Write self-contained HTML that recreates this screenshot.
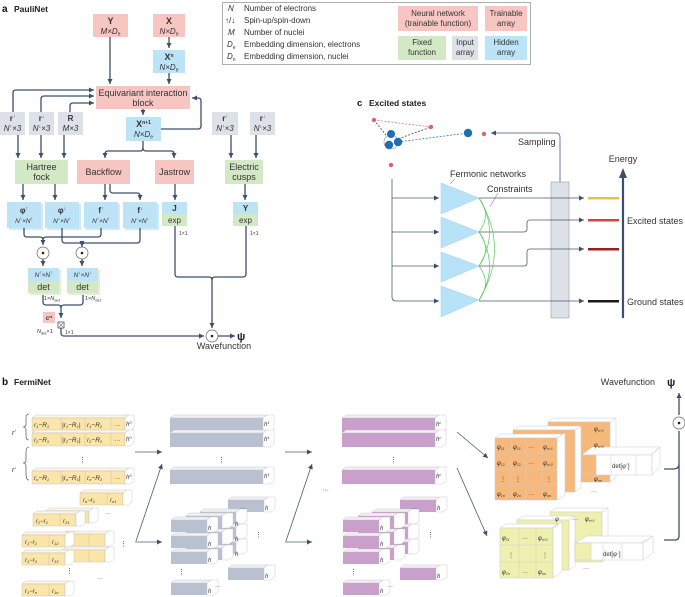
<!DOCTYPE html>
<html><head><meta charset="utf-8"><style>
html,body{margin:0;padding:0;background:#fff}
svg{display:block;font-family:"Liberation Sans",sans-serif}
.t{font-size:9px;fill:#333}
.s{font-size:8px;fill:#333}
.i{font-style:italic}
.b{font-weight:bold}
.ln{stroke:#3d4f6e;stroke-width:1.3;fill:none}
.tl{stroke:#4a5a78;stroke-width:0.8;fill:none}
</style></head><body>
<svg width="685" height="597" viewBox="0 0 685 597" xmlns="http://www.w3.org/2000/svg">
<defs>
<marker id="a" markerWidth="6" markerHeight="6" refX="5" refY="3" orient="auto" markerUnits="userSpaceOnUse"><path d="M0,0.5 L5,3 L0,5.5z" fill="#3d4f6e"/></marker>
<g id="yp">
<path d="M0,0 l4,-3 h43 l-4,3z" fill="#fbf6e6" stroke="#bbb" stroke-width="0.4"/>
<rect x="0" y="0" width="43" height="12" fill="#fbe5a8" stroke="#bbb" stroke-width="0.4"/>
<path d="M27,0 v12" stroke="#bbb" stroke-width="0.4"/>
<path d="M43,0 l4,-3 h5 v12 l-4,3 h-5z" fill="#fff" stroke="#bbb" stroke-width="0.4"/>
</g>
<g id="gb">
<path d="M0,0 l4,-3 h93 l-4,3z" fill="#eef0f4" stroke="#bbb" stroke-width="0.4"/>
<rect x="0" y="0" width="93" height="14" fill="#b9c1d1"/>
<path d="M93,0 l4,-3 h7 v14 l-4,3 h-7z" fill="#fff" stroke="#bbb" stroke-width="0.4"/>
</g>
<g id="gs">
<path d="M0,0 l4,-3 h36 l-4,3z" fill="#eef0f4" stroke="#bbb" stroke-width="0.4"/>
<rect x="0" y="0" width="36" height="12" fill="#b9c1d1"/>
<path d="M36,0 l4,-3 h7 v12 l-4,3 h-7z" fill="#fff" stroke="#bbb" stroke-width="0.4"/>
</g>
<g id="pb">
<path d="M0,0 l4,-3 h93 l-4,3z" fill="#f3eef4" stroke="#bbb" stroke-width="0.4"/>
<rect x="0" y="0" width="93" height="14" fill="#c9a0cc"/>
<path d="M93,0 l4,-3 h7 v14 l-4,3 h-7z" fill="#fff" stroke="#bbb" stroke-width="0.4"/>
</g>
<g id="ps">
<path d="M0,0 l4,-3 h36 l-4,3z" fill="#f3eef4" stroke="#bbb" stroke-width="0.4"/>
<rect x="0" y="0" width="36" height="12" fill="#c9a0cc"/>
<path d="M36,0 l4,-3 h7 v12 l-4,3 h-7z" fill="#fff" stroke="#bbb" stroke-width="0.4"/>
</g>
<g id="yr">
<path d="M0,0 l4,-3 h93 l-4,3z" fill="#fbf6e6" stroke="#bbb" stroke-width="0.4"/>
<rect x="0" y="0" width="93" height="13" fill="#fbe5a8" stroke="#bbb" stroke-width="0.4"/>
<path d="M93,0 l4,-3 h5 v13 l-4,3 h-5z" fill="#fff" stroke="#bbb" stroke-width="0.4"/>
<path d="M29,0 v13 M53,0 v13 M79,0 v13" stroke="#bbb" stroke-width="0.4"/>
</g>
</defs>

<!-- Panel a -->
<text x="2" y="12" font-size="10" class="b" fill="#111">a</text>
<text x="14" y="12" font-size="8.5" class="b" fill="#222">PauliNet</text>

<rect x="222.5" y="2.5" width="308" height="62" fill="#fff" stroke="#999" stroke-width="0.8"/>
<g class="s" font-size="7.8">
<text x="228" y="11" class="i">N</text><text x="244" y="11">Number of electrons</text>
<text x="225" y="23">↑/↓</text><text x="244" y="23">Spin-up/spin-down</text>
<text x="228" y="35" class="i">M</text><text x="244" y="35">Number of nuclei</text>
<text x="227" y="47" class="i">D<tspan font-size="5" dy="2" font-style="normal">e</tspan></text><text x="244" y="47">Embedding dimension, electrons</text>
<text x="227" y="59" class="i">D<tspan font-size="5" dy="2" font-style="normal">n</tspan></text><text x="244" y="59">Embedding dimension, nuclei</text>
</g>
<rect x="398" y="6" width="80" height="25" fill="#f7c6c2"/>
<text x="438" y="16" class="s" text-anchor="middle">Neural network</text>
<text x="438" y="26" class="s" text-anchor="middle">(trainable function)</text>
<rect x="485" y="6" width="42" height="25" fill="#f7c6c2"/>
<text x="506" y="16" class="s" text-anchor="middle">Trainable</text>
<text x="506" y="26" class="s" text-anchor="middle">array</text>
<rect x="398" y="36" width="48" height="24" fill="#d3e8c4"/>
<text x="422" y="45" class="s" text-anchor="middle">Fixed</text>
<text x="422" y="55" class="s" text-anchor="middle">function</text>
<rect x="452" y="36" width="26" height="24" fill="#dde1e8"/>
<text x="465" y="45" class="s" text-anchor="middle">Input</text>
<text x="465" y="55" class="s" text-anchor="middle">array</text>
<rect x="485" y="36" width="42" height="24" fill="#bde3f7"/>
<text x="506" y="45" class="s" text-anchor="middle">Hidden</text>
<text x="506" y="55" class="s" text-anchor="middle">array</text>

<rect x="93" y="14" width="35" height="23" fill="#f7c6c2"/>
<text x="110.5" y="24" class="t b" text-anchor="middle">Y</text>
<text x="110.5" y="34" class="s i" text-anchor="middle">M×D<tspan font-size="5" dy="1.5" font-style="normal">n</tspan></text>
<rect x="153" y="14" width="32" height="23" fill="#f7c6c2"/>
<text x="169" y="24" class="t b" text-anchor="middle">X</text>
<text x="169" y="34" class="s i" text-anchor="middle">N×D<tspan font-size="5" dy="1.5" font-style="normal">e</tspan></text>
<rect x="153" y="50" width="32" height="23" fill="#bde3f7"/>
<text x="169" y="60" class="t b" text-anchor="middle">X<tspan font-size="5" dy="-3">n</tspan></text>
<text x="169" y="70" class="s i" text-anchor="middle">N×D<tspan font-size="5" dy="1.5" font-style="normal">e</tspan></text>
<rect x="96" y="86" width="94" height="23" fill="#f7c6c2"/>
<text x="143" y="96" class="t" text-anchor="middle">Equivariant interaction</text>
<text x="143" y="106" class="t" text-anchor="middle">block</text>
<rect x="126" y="117" width="35" height="24" fill="#bde3f7"/>
<text x="143.5" y="127" class="t b" text-anchor="middle">X<tspan font-size="5" dy="-3">n+1</tspan></text>
<text x="143.5" y="137" class="s i" text-anchor="middle">N×D<tspan font-size="5" dy="1.5" font-style="normal">e</tspan></text>

<g class="s">
<rect x="0" y="112" width="25" height="23" fill="#dde1e8"/><text x="12.5" y="121" text-anchor="middle" class="b">r<tspan font-size="5" dy="-3">↑</tspan></text><text x="12.5" y="131" text-anchor="middle" class="i">N<tspan font-size="5" dy="-3">↑</tspan><tspan dy="3">×3</tspan></text>
<rect x="29" y="112" width="25" height="23" fill="#dde1e8"/><text x="41.5" y="121" text-anchor="middle" class="b">r<tspan font-size="5" dy="-3">↓</tspan></text><text x="41.5" y="131" text-anchor="middle" class="i">N<tspan font-size="5" dy="-3">↓</tspan><tspan dy="3">×3</tspan></text>
<rect x="58" y="112" width="25" height="23" fill="#dde1e8"/><text x="70.5" y="121" text-anchor="middle" class="b">R</text><text x="70.5" y="131" text-anchor="middle" class="i">M×3</text>
<rect x="212" y="112" width="26" height="23" fill="#dde1e8"/><text x="225" y="121" text-anchor="middle" class="b">r<tspan font-size="5" dy="-3">↑</tspan></text><text x="225" y="131" text-anchor="middle" class="i">N<tspan font-size="5" dy="-3">↑</tspan><tspan dy="3">×3</tspan></text>
<rect x="250" y="112" width="25" height="23" fill="#dde1e8"/><text x="262.5" y="121" text-anchor="middle" class="b">r<tspan font-size="5" dy="-3">↓</tspan></text><text x="262.5" y="131" text-anchor="middle" class="i">N<tspan font-size="5" dy="-3">↓</tspan><tspan dy="3">×3</tspan></text>
</g>

<rect x="15" y="160" width="53" height="24" fill="#d3e8c4"/>
<text x="41.5" y="170" class="t" text-anchor="middle">Hartree</text><text x="41.5" y="180" class="t" text-anchor="middle">fock</text>
<rect x="77" y="160" width="53" height="24" fill="#f7c6c2"/>
<text x="103.5" y="175" class="t" text-anchor="middle">Backflow</text>
<rect x="155" y="160" width="39" height="24" fill="#f7c6c2"/>
<text x="174.5" y="175" class="t" text-anchor="middle">Jastrow</text>
<rect x="225" y="160" width="38" height="24" fill="#d3e8c4"/>
<text x="244" y="170" class="t" text-anchor="middle">Electric</text><text x="244" y="180" class="t" text-anchor="middle">cusps</text>

<g class="ln">
<path d="M110,37 V84" marker-end="url(#a)"/>
<path d="M169,37 V48" marker-end="url(#a)"/>
<path d="M169,73 V84" marker-end="url(#a)"/>
<path d="M143,109 V115" marker-end="url(#a)"/>
<path d="M161,129 H198 Q201,129 201,126 V101 Q201,98 198,98 H192" marker-end="url(#a)"/>
<path d="M13,112 V93 Q13,90 16,90 H94" marker-end="url(#a)"/>
<path d="M41,112 V99 Q41,96 44,96 H94" marker-end="url(#a)"/>
<path d="M70,112 V106 Q70,103 73,103 H94" marker-end="url(#a)"/>
<path d="M18,135 V158" marker-end="url(#a)"/>
<path d="M41,135 V158" marker-end="url(#a)"/>
<path d="M64,135 V158" marker-end="url(#a)"/>
<path d="M231,135 V158" marker-end="url(#a)"/>
<path d="M256,135 V158" marker-end="url(#a)"/>
<path d="M143,141 V148 M143,148 Q143,151 140,151 H108 Q105,151 105,154 V158" marker-end="url(#a)"/>
<path d="M143,148 Q143,151 146,151 H171 Q174,151 174,154 V158" marker-end="url(#a)"/>
<path d="M23,184 V200" marker-end="url(#a)"/>
<path d="M55,184 V200" marker-end="url(#a)"/>
<path d="M105,184 V200" marker-end="url(#a)"/>
<path d="M110,184 V190 Q110,193 113,193 H137 Q140,193 140,196 V200" marker-end="url(#a)"/>
<path d="M175,184 V200" marker-end="url(#a)"/>
<path d="M245,184 V200" marker-end="url(#a)"/>
</g>

<g>
<rect x="9" y="204" width="34" height="26" fill="#cfe9f8"/><rect x="7" y="202" width="34" height="26" fill="#bde3f7"/>
<rect x="47" y="204" width="34" height="26" fill="#cfe9f8"/><rect x="45" y="202" width="34" height="26" fill="#bde3f7"/>
<rect x="86" y="204" width="34" height="26" fill="#cfe9f8"/><rect x="84" y="202" width="34" height="26" fill="#bde3f7"/>
<rect x="125" y="204" width="34" height="26" fill="#cfe9f8"/><rect x="123" y="202" width="34" height="26" fill="#bde3f7"/>
</g>
<g class="s" text-anchor="middle">
<text x="24" y="213" class="b">φ<tspan font-size="5" dy="-3">↑</tspan></text><text x="24" y="223" class="i" font-size="6.5">N<tspan font-size="4.5" dy="-3">↑</tspan><tspan dy="3">×N</tspan><tspan font-size="4.5" dy="-3">↑</tspan></text>
<text x="62" y="213" class="b">φ<tspan font-size="5" dy="-3">↓</tspan></text><text x="62" y="223" class="i" font-size="6.5">N<tspan font-size="4.5" dy="-3">↓</tspan><tspan dy="3">×N</tspan><tspan font-size="4.5" dy="-3">↓</tspan></text>
<text x="101" y="213" class="b">f<tspan font-size="5" dy="-3">↑</tspan></text><text x="101" y="223" class="i" font-size="6.5">N<tspan font-size="4.5" dy="-3">↑</tspan><tspan dy="3">×N</tspan><tspan font-size="4.5" dy="-3">↑</tspan></text>
<text x="140" y="213" class="b">f<tspan font-size="5" dy="-3">↓</tspan></text><text x="140" y="223" class="i" font-size="6.5">N<tspan font-size="4.5" dy="-3">↓</tspan><tspan dy="3">×N</tspan><tspan font-size="4.5" dy="-3">↓</tspan></text>
</g>
<rect x="162" y="202" width="25" height="12" fill="#bde3f7"/><rect x="162" y="214" width="25" height="12" fill="#d3e8c4"/>
<text x="174.5" y="211" class="s b" text-anchor="middle">J</text><text x="174.5" y="223" class="s" text-anchor="middle">exp</text>
<rect x="233" y="202" width="25" height="12" fill="#bde3f7"/><rect x="233" y="214" width="25" height="12" fill="#d3e8c4"/>
<text x="245.5" y="211" class="s b" text-anchor="middle">Y</text><text x="245.5" y="223" class="s" text-anchor="middle">exp</text>
<text x="179" y="235" font-size="5" fill="#333">1×1</text>
<text x="250" y="235" font-size="5" fill="#333">1×1</text>

<g class="ln">
<path d="M24,228 V234 Q24,237 27,237 H40 Q43,237 43,240 V245" marker-end="url(#a)"/>
<path d="M101,228 V234 Q101,237 98,237 H46 Q43,237 43,240"/>
<path d="M62,228 V240 Q62,243 65,243 H79 Q82,243 82,246" marker-end="url(#a)"/>
<path d="M140,228 V240 Q140,243 137,243 H85 Q82,243 82,246 V245" marker-end="url(#a)"/>
<path d="M43,259 V266" marker-end="url(#a)"/>
<path d="M82,259 V266" marker-end="url(#a)"/>
<path d="M175,226 V274 Q175,277 178,277 H209 Q212,277 212,280 V328" marker-end="url(#a)"/>
<path d="M246,226 V274 Q246,277 243,277 H215 Q212,277 212,280"/>
<path d="M43,293 V302 Q43,305 46,305 H58 Q61,305 61,308 V318" marker-end="url(#a)"/>
<path d="M83,293 V302 Q83,305 80,305 H64 Q61,305 61,308"/>
<path d="M61,328 V333 Q61,336 64,336 H204" marker-end="url(#a)"/>
<path d="M218,336 H235" marker-end="url(#a)"/>
</g>
<g fill="#fff" stroke="#666" stroke-width="0.7">
<circle cx="43" cy="253" r="6"/><circle cx="82" cy="253" r="6"/><circle cx="212" cy="336" r="6"/>
</g>
<circle cx="43" cy="253" r="1.3" fill="#222"/><circle cx="82" cy="253" r="1.3" fill="#222"/><circle cx="212" cy="336" r="1.3" fill="#222"/>
<text x="237" y="340" font-size="11" class="b" fill="#222">ψ</text>
<text x="224" y="349" class="t" text-anchor="middle">Wavefunction</text>

<rect x="30" y="270" width="31" height="25" fill="#e2eed8"/>
<rect x="28" y="268" width="31" height="13" fill="#bde3f7"/><rect x="28" y="281" width="31" height="12" fill="#d3e8c4"/>
<rect x="69" y="270" width="31" height="25" fill="#e2eed8"/>
<rect x="67" y="268" width="31" height="13" fill="#bde3f7"/><rect x="67" y="281" width="31" height="12" fill="#d3e8c4"/>
<text x="43.5" y="277" font-size="6.5" class="i" fill="#333" text-anchor="middle">N<tspan font-size="4.5" dy="-3">↑</tspan><tspan dy="3">×N</tspan><tspan font-size="4.5" dy="-3">↑</tspan></text>
<text x="82.5" y="277" font-size="6.5" class="i" fill="#333" text-anchor="middle">N<tspan font-size="4.5" dy="-3">↓</tspan><tspan dy="3">×N</tspan><tspan font-size="4.5" dy="-3">↓</tspan></text>
<text x="43.5" y="290" class="t" text-anchor="middle">det</text>
<text x="82.5" y="290" class="t" text-anchor="middle">det</text>
<text x="44" y="300" font-size="5.5" fill="#333">1×<tspan class="i">N</tspan><tspan font-size="4" dy="1.5">det</tspan></text>
<text x="85" y="300" font-size="5.5" fill="#333">1×<tspan class="i">N</tspan><tspan font-size="4" dy="1.5">det</tspan></text>
<rect x="43" y="312" width="12" height="11" fill="#f7c6c2"/>
<text x="49" y="320" font-size="6" class="b" fill="#333" text-anchor="middle">c<tspan font-size="4" dy="-2">π</tspan></text>
<rect x="58" y="322" width="6" height="6" fill="#fff" stroke="#333" stroke-width="0.7"/>
<path d="M59,323 L63,327 M63,323 L59,327" stroke="#333" stroke-width="0.5"/>
<text x="37" y="333" font-size="5.5" fill="#333" class="i">N<tspan font-size="4" dy="1.5" font-style="normal">det</tspan><tspan dy="-1.5" font-style="normal">×1</tspan></text>
<text x="65" y="334" font-size="5" fill="#333">1×1</text>

<!-- Panel c -->
<text x="357" y="106" font-size="9.5" class="b" fill="#111">c</text>
<text x="369" y="106" font-size="8.5" class="b" fill="#222">Excited states</text>
<path d="M374,120 L431,127" stroke="#e07a7a" stroke-width="0.8" stroke-dasharray="2,1.5"/>
<path d="M374,120 L390,140 M395,140 L431,127" stroke="#444" stroke-width="0.8" stroke-dasharray="2,1.5"/>
<path d="M398,142 L468,133" stroke="#3d8bd0" stroke-width="0.9" stroke-dasharray="2,1.5"/>
<circle cx="391" cy="142" r="7" fill="#fff" stroke="#888" stroke-width="0.6"/>
<circle cx="391" cy="134" r="4" fill="#1d6fb0"/>
<circle cx="389" cy="145" r="4.2" fill="#1d6fb0"/>
<circle cx="398" cy="142" r="4.2" fill="#1d6fb0"/>
<circle cx="468" cy="133" r="4.2" fill="#1d6fb0"/>
<g fill="#d9646a"><circle cx="374" cy="120" r="2.2"/><circle cx="431" cy="127" r="2.2"/><circle cx="484" cy="134" r="2.2"/><circle cx="391" cy="165" r="2.2"/></g>
<text x="518" y="145" class="t" font-size="8">Sampling</text>
<path d="M560,182 V137 Q560,133 556,133 H491" class="tl" marker-end="url(#a)"/>
<rect x="551" y="182" width="18" height="136" fill="#dde1e8" stroke="#99a" stroke-width="0.6"/>
<text x="450" y="177" class="t" font-size="8">Fermonic networks</text>
<path d="M455,179 L450,184" stroke="#666" stroke-width="0.5"/>
<text x="487" y="192" class="t" font-size="8">Constraints</text>
<path d="M498,193 L490,207" stroke="#666" stroke-width="0.5"/>
<g fill="#b8e2f7" stroke="#9cd0ee" stroke-width="0.5">
<path d="M441,183 L479,198 L441,214z"/><path d="M441,217 L479,232 L441,248z"/>
<path d="M441,252 L479,266 L441,282z"/><path d="M441,286 L479,300 L441,317z"/>
</g>
<g class="tl">
<path d="M392,179 V297 Q392,301 396,301 H439" marker-end="url(#a)"/>
<path d="M392,198 H439" marker-end="url(#a)"/>
<path d="M392,232 H439" marker-end="url(#a)"/>
<path d="M392,266 H439" marker-end="url(#a)"/>
<path d="M479,198 H584" marker-end="url(#a)"/>
<path d="M479,232 H524 Q527,232 527,229 V223 Q527,220 530,220 H584" marker-end="url(#a)"/>
<path d="M479,266 H524 Q527,266 527,263 V252 Q527,249 530,249 H584" marker-end="url(#a)"/>
<path d="M479,301 H584" marker-end="url(#a)"/>
</g>
<g stroke="#5cc85c" stroke-width="0.7" fill="none">
<path d="M479,198 Q492,215 479,232"/><path d="M479,232 Q492,249 479,266"/><path d="M479,266 Q492,283 479,300"/>
<path d="M479,198 Q500,232 479,266"/><path d="M479,232 Q500,266 479,300"/>
<path d="M479,198 Q510,249 479,300"/>
</g>
<rect x="588" y="197" width="31" height="2.5" fill="#e8c050"/>
<rect x="588" y="219" width="31" height="2.5" fill="#d04545"/>
<rect x="588" y="248" width="31" height="2.5" fill="#9a2020"/>
<rect x="588" y="300" width="31" height="2.5" fill="#1a1a1a"/>
<path d="M623,318 V176" stroke="#3d4f6e" stroke-width="2.2"/>
<path d="M619,178 L623,168 L627,178z" fill="#3d4f6e"/>
<text x="623" y="162" class="t" font-size="8" text-anchor="middle">Energy</text>
<text x="627" y="224" class="t" font-size="8">Excited states</text>
<text x="627" y="305" class="t" font-size="8">Ground states</text>

<!-- Panel b -->
<text x="2" y="385" font-size="10" class="b" fill="#111">b</text>
<text x="14" y="385" font-size="8.5" class="b" fill="#222">FermiNet</text>

<text x="655" y="385" class="t" font-size="8" text-anchor="end">Wavefunction</text>
<text x="667" y="386" font-size="11" class="b" fill="#222">ψ</text>
<path d="M679,536 Q679,540 675,540 H664 M679,437 V536 M679,464 Q679,469 673,469 H664" class="ln"/>
<path d="M679,437 V431" class="ln"/>
<path d="M679,415 V393" class="ln" marker-end="url(#a)"/>
<circle cx="679" cy="423" r="6" fill="#fff" stroke="#666" stroke-width="0.7"/><circle cx="679" cy="423" r="1.3" fill="#222"/>

<g font-size="6.5" class="i" fill="#333">
<use href="#yr" x="32" y="418"/><use href="#yr" x="32" y="433"/><use href="#yr" x="32" y="471"/>
<text x="34" y="427">r<tspan font-size="4" dy="1">1</tspan><tspan dy="-1">−R</tspan><tspan font-size="4" dy="1">1</tspan></text>
<text x="62" y="427">|r<tspan font-size="4" dy="1">1</tspan><tspan dy="-1">−R</tspan><tspan font-size="4" dy="1">1</tspan><tspan dy="-1">|</tspan></text>
<text x="87" y="427">r<tspan font-size="4" dy="1">1</tspan><tspan dy="-1">−R</tspan><tspan font-size="4" dy="1">2</tspan></text>
<text x="34" y="442">r<tspan font-size="4" dy="1">2</tspan><tspan dy="-1">−R</tspan><tspan font-size="4" dy="1">1</tspan></text>
<text x="62" y="442">|r<tspan font-size="4" dy="1">2</tspan><tspan dy="-1">−R</tspan><tspan font-size="4" dy="1">1</tspan><tspan dy="-1">|</tspan></text>
<text x="87" y="442">r<tspan font-size="4" dy="1">2</tspan><tspan dy="-1">−R</tspan><tspan font-size="4" dy="1">2</tspan></text>
<text x="34" y="480">r<tspan font-size="4" dy="1">n</tspan><tspan dy="-1">−R</tspan><tspan font-size="4" dy="1">1</tspan></text>
<text x="62" y="480">|r<tspan font-size="4" dy="1">n</tspan><tspan dy="-1">−R</tspan><tspan font-size="4" dy="1">1</tspan><tspan dy="-1">|</tspan></text>
<text x="87" y="480">r<tspan font-size="4" dy="1">n</tspan><tspan dy="-1">−R</tspan><tspan font-size="4" dy="1">2</tspan></text>
<text x="114" y="427" font-style="normal">···</text><text x="114" y="442" font-style="normal">···</text><text x="114" y="480" font-style="normal">···</text>
<text x="126" y="426" font-size="6">h<tspan font-size="4" dy="-2">0</tspan></text>
<text x="126" y="441" font-size="6">h<tspan font-size="4" dy="-2">0</tspan></text>
<text x="126" y="479" font-size="6">h<tspan font-size="4" dy="-2">0</tspan></text>
</g>
<text x="79" y="462" font-size="7" fill="#333">⋮</text>
<text x="12" y="435" font-size="7" class="i" fill="#333">r<tspan font-size="4.5" dy="-3">↑</tspan></text>
<text x="12" y="472" font-size="7" class="i" fill="#333">r<tspan font-size="4.5" dy="-3">↓</tspan></text>
<path d="M29,414 q-3,0 -3,4 v6 q0,3 -3,3 q3,0 3,3 v6 q0,4 3,4" stroke="#333" stroke-width="0.6" fill="none"/>
<path d="M29,447 q-3,0 -3,5 v8 q0,3 -3,3 q3,0 3,3 v8 q0,6 3,6" stroke="#333" stroke-width="0.6" fill="none"/>

<use href="#yp" x="80" y="493"/>
<use href="#yp" x="46" y="511"/>
<use href="#yp" x="62" y="534"/>
<use href="#yp" x="62" y="550"/>
<use href="#yp" x="33" y="514"/>
<use href="#yp" x="22" y="535"/>
<use href="#yp" x="22" y="553"/>
<use href="#yp" x="22" y="584"/>
<g font-size="6" class="i" fill="#333">
<text x="83" y="502">r<tspan font-size="4" dy="1">n</tspan><tspan dy="-1">−r</tspan><tspan font-size="4" dy="1">1</tspan></text><text x="110" y="502">r<tspan font-size="4" dy="1">n1</tspan></text>
<text x="36" y="523">r<tspan font-size="4" dy="1">2</tspan><tspan dy="-1">−r</tspan><tspan font-size="4" dy="1">1</tspan></text><text x="63" y="523">r<tspan font-size="4" dy="1">21</tspan></text>
<text x="25" y="544">r<tspan font-size="4" dy="1">1</tspan><tspan dy="-1">−r</tspan><tspan font-size="4" dy="1">2</tspan></text><text x="52" y="544">r<tspan font-size="4" dy="1">12</tspan></text>
<text x="25" y="562">r<tspan font-size="4" dy="1">1</tspan><tspan dy="-1">−r</tspan><tspan font-size="4" dy="1">3</tspan></text><text x="52" y="562">r<tspan font-size="4" dy="1">13</tspan></text>
<text x="25" y="593">r<tspan font-size="4" dy="1">1</tspan><tspan dy="-1">−r</tspan><tspan font-size="4" dy="1">n</tspan></text><text x="52" y="593">r<tspan font-size="4" dy="1">1n</tspan></text>
<text x="66" y="573" font-style="normal" font-size="7">⋮</text>
<text x="97" y="580" font-style="normal">···</text>
<text x="105" y="515" font-style="normal">···</text>
<text x="120" y="546" font-style="normal" font-size="7">⋮</text>
</g>

<g class="tl">
<path d="M135,452 H162" marker-end="url(#a)"/>
<path d="M135,542 H162" marker-end="url(#a)"/>
<path d="M136,541 L162,464" marker-end="url(#a)"/>
<path d="M285,452 H312" marker-end="url(#a)"/>
<path d="M285,542 H312" marker-end="url(#a)"/>
<path d="M286,541 L312,464" marker-end="url(#a)"/>
<path d="M457,432 L488,458" marker-end="url(#a)"/>
<path d="M457,468 L487,536" marker-end="url(#a)"/>
</g>

<use href="#gb" x="170" y="418"/><use href="#gb" x="170" y="433"/><use href="#gb" x="170" y="470"/>
<text x="218" y="462" font-size="7" fill="#333">⋮</text>
<use href="#gs" x="228" y="500"/>
<use href="#gs" x="200" y="512"/><use href="#gs" x="200" y="527"/><use href="#gs" x="200" y="542"/>
<use href="#gs" x="186" y="516"/><use href="#gs" x="186" y="532"/><use href="#gs" x="186" y="548"/>
<use href="#gs" x="171" y="520"/><use href="#gs" x="171" y="536"/><use href="#gs" x="171" y="552"/>
<use href="#gs" x="228" y="568"/><use href="#gs" x="171" y="583"/>
<g font-size="6" class="i" fill="#333">
<text x="264" y="426">h<tspan font-size="4" dy="-2">1</tspan></text><text x="264" y="441">h<tspan font-size="4" dy="-2">1</tspan></text><text x="264" y="478">h<tspan font-size="4" dy="-2">1</tspan></text>
<text x="208" y="530">h</text><text x="208" y="546">h</text><text x="208" y="562">h</text><text x="208" y="593">h</text>
<text x="265" y="510">h</text><text x="265" y="578">h</text>
<text x="235" y="526">h</text><text x="235" y="541">h</text><text x="235" y="556">h</text>
<text x="240" y="510" font-style="normal">···</text><text x="215" y="588" font-style="normal">···</text>
<text x="255" y="537" font-style="normal" font-size="7">⋮</text><text x="178" y="574" font-style="normal" font-size="7">⋮</text>
</g>
<text x="322" y="492" font-size="7" fill="#333">···</text>

<use href="#pb" x="342" y="418"/><use href="#pb" x="342" y="433"/><use href="#pb" x="342" y="470"/>
<text x="390" y="462" font-size="7" fill="#333">⋮</text>
<use href="#ps" x="400" y="500"/>
<use href="#ps" x="372" y="512"/><use href="#ps" x="372" y="527"/><use href="#ps" x="372" y="542"/>
<use href="#ps" x="358" y="516"/><use href="#ps" x="358" y="532"/><use href="#ps" x="358" y="548"/>
<use href="#ps" x="343" y="520"/><use href="#ps" x="343" y="536"/><use href="#ps" x="343" y="552"/>
<use href="#ps" x="400" y="568"/><use href="#ps" x="343" y="583"/>
<g font-size="6" class="i" fill="#333">
<text x="436" y="426">h<tspan font-size="4" dy="-2">L</tspan></text><text x="436" y="441">h<tspan font-size="4" dy="-2">L</tspan></text><text x="436" y="478">h<tspan font-size="4" dy="-2">L</tspan></text>
<text x="380" y="530">h</text><text x="380" y="546">h</text><text x="380" y="562">h</text><text x="380" y="593">h</text>
<text x="437" y="510">h</text><text x="437" y="578">h</text>
<text x="412" y="510" font-style="normal">···</text><text x="387" y="588" font-style="normal">···</text>
<text x="427" y="537" font-style="normal" font-size="7">⋮</text><text x="350" y="574" font-style="normal" font-size="7">⋮</text>
</g>

<g stroke="#ccc" stroke-width="0.5">
<path d="M548,422 l6,-4 h62 l-6,4z" fill="#fff"/><rect x="548" y="422" width="62" height="60" fill="#f7b97b"/><path d="M610,422 l6,-4 v60 l-6,4z" fill="#fff"/>
<path d="M513,430 l6,-4 h62 l-6,4z" fill="#fff"/><rect x="513" y="430" width="62" height="62" fill="#f7b97b"/><path d="M575,430 l6,-4 v62 l-6,4z" fill="#fff"/>
<path d="M495,438 l6,-4 h62 l-6,4z" fill="#fff"/><rect x="495" y="438" width="62" height="62" fill="#f7b97b"/><path d="M557,438 l8,-5 v62 l-8,5z" fill="#fff"/>
<path d="M511,438 v62 M526,438 v62 M542,438 v62 M495,453 h62 M495,469 h62 M495,485 h62" fill="none"/>
<path d="M582,455 l10,-8 h68 l-10,8z" fill="#fff"/><rect x="582" y="455" width="70" height="20" fill="#fff"/><rect x="582" y="455" width="14" height="20" fill="#f7b97b"/>
<path d="M652,455 l8,-8 v20 l-8,8z" fill="#fff"/><path d="M611,455 v20 M636,455 v20" fill="none"/>
</g>
<g font-size="6" class="i" fill="#333">
<text x="497" y="449">φ<tspan font-size="3.5" dy="1">11</tspan></text><text x="513" y="449">φ<tspan font-size="3.5" dy="1">21</tspan></text><text x="528" y="449" font-style="normal">···</text><text x="543" y="449">φ<tspan font-size="3.5" dy="1">n+1</tspan></text>
<text x="497" y="465">φ<tspan font-size="3.5" dy="1">12</tspan></text><text x="513" y="465">φ<tspan font-size="3.5" dy="1">22</tspan></text><text x="528" y="465" font-style="normal">···</text><text x="543" y="465">φ<tspan font-size="3.5" dy="1">n+2</tspan></text>
<text x="500" y="481" font-style="normal">⋮</text><text x="515" y="481" font-style="normal">⋮</text><text x="546" y="481" font-style="normal">⋮</text>
<text x="497" y="496">φ<tspan font-size="3.5" dy="1">1n</tspan></text><text x="513" y="496">φ<tspan font-size="3.5" dy="1">2n</tspan></text><text x="528" y="496" font-style="normal">···</text><text x="543" y="496">φ<tspan font-size="3.5" dy="1">nn</tspan></text>
<text x="594" y="431">φ<tspan font-size="3.5" dy="1">n+1</tspan></text><text x="594" y="447">φ<tspan font-size="3.5" dy="1">n+2</tspan></text>
<text x="594" y="481">φ<tspan font-size="3.5" dy="1">nn</tspan></text>
<text x="612" y="468" font-style="normal">det[φ<tspan font-size="4" dy="-2">↑</tspan><tspan dy="2">]</tspan></text>
<text x="591" y="493" font-style="normal">···</text>
</g>

<g stroke="#ccc" stroke-width="0.5">
<path d="M550,512 l6,-4 h52 l-6,4z" fill="#fff"/><rect x="550" y="512" width="52" height="50" fill="#eef0b0"/><path d="M602,512 l6,-4 v50 l-6,4z" fill="#fff"/>
<path d="M517,520 l6,-4 h52 l-6,4z" fill="#fff"/><rect x="517" y="520" width="52" height="50" fill="#eef0b0"/><path d="M569,520 l6,-4 v50 l-6,4z" fill="#fff"/>
<path d="M500,528 l6,-4 h52 l-6,4z" fill="#fff"/><rect x="500" y="528" width="53" height="50" fill="#eef0b0"/><path d="M553,528 l9,-6 v50 l-9,6z" fill="#fff"/>
<path d="M519,528 v50 M536,528 v50 M500,545 h53 M500,562 h53" fill="none"/>
<path d="M575,543 l12,-7 h66 l-12,7z" fill="#fff"/><rect x="575" y="543" width="68" height="17" fill="#fff"/><rect x="575" y="543" width="16" height="17" fill="#eef0b0"/>
<path d="M643,543 l10,-7 v17 l-10,7z" fill="#fff"/><path d="M603,543 v17 M622,543 v17" fill="none"/>
</g>
<g font-size="6" class="i" fill="#333">
<text x="502" y="540">φ<tspan font-size="3.5" dy="1">11</tspan></text><text x="522" y="540" font-style="normal">···</text><text x="538" y="540">φ<tspan font-size="3.5" dy="1">n+1</tspan></text>
<text x="508" y="557" font-style="normal">⋮</text><text x="542" y="557" font-style="normal">⋮</text>
<text x="502" y="574">φ<tspan font-size="3.5" dy="1">1n</tspan></text><text x="522" y="574" font-style="normal">···</text><text x="538" y="574">φ<tspan font-size="3.5" dy="1">nn</tspan></text>
<text x="555" y="521">φ</text><text x="572" y="521" font-style="normal">···</text><text x="585" y="521">φ<tspan font-size="3.5" dy="1">n+1</tspan></text>
<text x="603" y="556" font-style="normal">det[φ<tspan font-size="4" dy="-2">↓</tspan><tspan dy="2">]</tspan></text>
<text x="583" y="570" font-style="normal">···</text>
</g>
</svg>
</body></html>
